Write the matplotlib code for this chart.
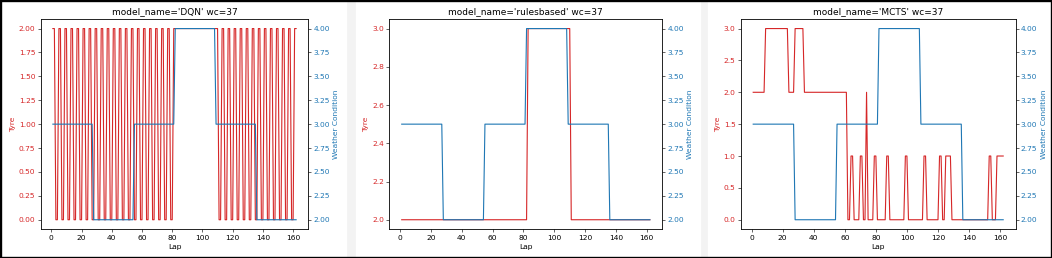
import numpy as np
import matplotlib
matplotlib.use('Agg')
import matplotlib.pyplot as plt
from matplotlib.patches import Rectangle

# laps and weather (same weather for all three models, wc=37)
laps = np.arange(1, 163)
weather_vals = [3, 2, 3, 4, 3, 2]
weather_lens = [27, 27, 27, 27, 27, 27]

# tyre choice per lap
tyre_dqn = [
    2, 2, 0, 0, 2, 2, 0, 0, 2, 2, 0, 0, 2, 2, 0, 0, 2, 2, 0, 0,
    2, 2, 0, 0, 2, 2, 0, 0, 2, 2, 0, 0, 2, 2, 0, 0, 2, 2, 0, 0,
    2, 2, 0, 0, 2, 2, 0, 0, 2, 2, 0, 0, 2, 2, 0, 0, 2, 2, 0, 0,
    2, 2, 0, 0, 2, 2, 0, 0, 2, 2, 0, 0, 2, 2, 0, 0, 2, 2, 0, 0,
    2, 2, 2, 2, 2, 2, 2, 2, 2, 2, 2, 2, 2, 2, 2, 2, 2, 2, 2, 2,
    2, 2, 2, 2, 2, 2, 2, 2, 2, 2, 0, 0, 2, 2, 0, 0, 2, 2, 0, 0,
    2, 2, 0, 0, 2, 2, 0, 0, 2, 2, 0, 0, 2, 2, 0, 0, 2, 2, 0, 0,
    2, 2, 0, 0, 2, 2, 0, 0, 2, 2, 0, 0, 2, 2, 0, 0, 2, 2, 0, 0,
    2, 2,
]

rules_vals = [2, 3, 2]
rules_lens = [82, 28, 52]

mcts_vals = [2, 3, 2, 3, 2, 0, 1, 0, 1, 0, 2, 0, 1, 0, 1, 0, 1, 0,
             1, 0, 1, 0, 1, 0, 1, 0, 1]
mcts_lens = [8, 15, 4, 6, 28, 2, 2, 4, 2, 2, 1, 4, 2, 6, 2, 10, 2, 10,
             2, 8, 2, 2, 4, 24, 2, 3, 5]

model_names = ['DQN', 'rulesbased', 'MCTS']

weather = np.repeat(weather_vals, weather_lens)
tyres = [np.array(tyre_dqn),
         np.repeat(rules_vals, rules_lens),
         np.repeat(mcts_vals, mcts_lens)]

W, H = 1052, 258
DPI = 53.75
fig = plt.figure(figsize=(W / DPI, H / DPI), dpi=DPI)

# axes boxes in pixels (left, right), shared top/bottom
boxes = [(40.7, 308.3), (389.3, 662.3), (740.7, 1015.7)]
top, bottom = 19, 229.3

for (l, r), name, tyre in zip(boxes, model_names, tyres):
    ax = fig.add_axes([l / W, 1 - bottom / H, (r - l) / W, (bottom - top) / H])
    ax.plot(laps, tyre, color='tab:red')
    ax.set_xlabel('Lap')
    ax.set_ylabel('Tyre', color='tab:red')
    ax.tick_params(axis='y', labelcolor='tab:red')
    ax.set_title(f"model_name='{name}' wc=37")

    ax2 = ax.twinx()
    ax2.plot(laps, weather, color='tab:blue')
    ax2.set_ylabel('Weather Condition', color='tab:blue')
    ax2.tick_params(axis='y', labelcolor='tab:blue')

# light gray gaps between the panels and a black frame round everything
for x0, x1 in [(347, 355), (701, 707)]:
    fig.patches.append(Rectangle((x0 / W, 0), (x1 - x0) / W, 1,
                                 transform=fig.transFigure,
                                 color='#f3f3f3', zorder=-1))
fig.patches.append(Rectangle((0, 0), 1, 1, transform=fig.transFigure,
                             fill=False, edgecolor='black', linewidth=4.5))

fig.savefig('out.png', dpi=DPI)
